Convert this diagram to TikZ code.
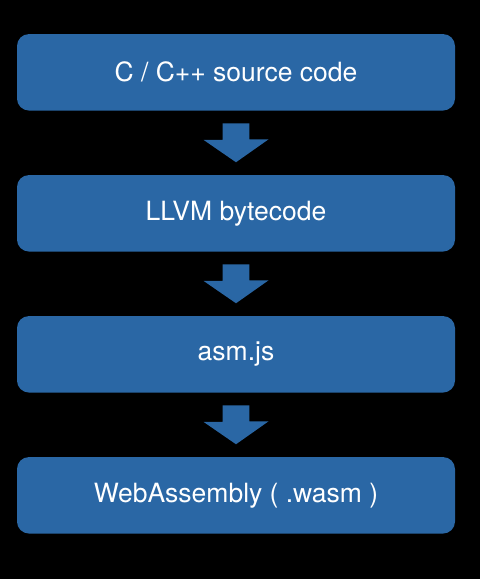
\documentclass[tikz,border=0pt]{standalone}
\usepackage{fontspec}
\setmainfont{TeX Gyre Heros}
\usetikzlibrary{calc}
\definecolor{boxblue}{RGB}{42,103,165}
\begin{document}
\begin{tikzpicture}[x=1pt,y=-1pt,
  stage/.style={fill=boxblue, rounded corners=12pt, minimum width=438pt, minimum height=76.5pt,
    text=white, font=\fontsize{26.5}{30}\selectfont, inner sep=0pt},
  flowarrow/.style={fill=boxblue}]
\fill[black] (0,0) rectangle (480,579);
\useasboundingbox (0,0) rectangle (480,579);
\node[stage] (s1) at (236,72.3) {C / C++ source code};
\node[stage] (s2) at (236,213.3) {LLVM bytecode};
\node[stage] (s3) at (236,354.3) {asm.js};
\node[stage] (s4) at (236,495.3) {WebAssembly ( .wasm )};
\foreach \a/\b in {s1/s2,s2/s3,s3/s4}{
  \fill[flowarrow] ($(\a.south)+(-13.3,12.6)$) -- ++(26.6,0) -- ++(0,16) -- ++(19.2,0)
    -- ($(\b.north)+(0,-12.6)$) -- ++(-32.5,-22.4) -- ++(19.2,0) -- cycle;
}
\end{tikzpicture}
\end{document}
